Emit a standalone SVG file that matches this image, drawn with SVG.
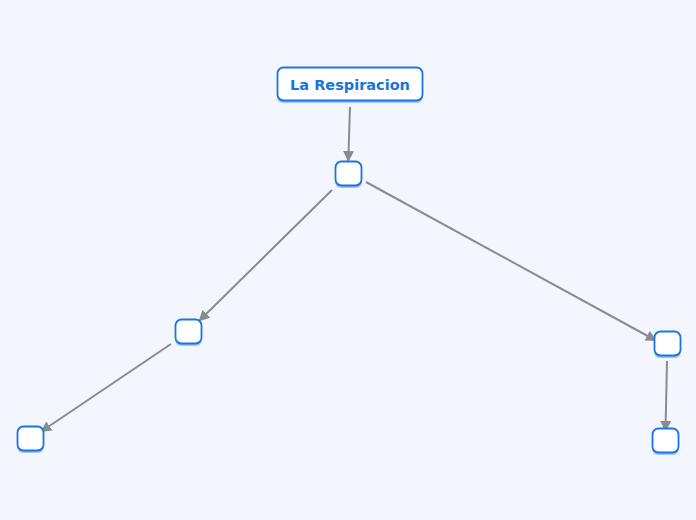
<svg xmlns="http://www.w3.org/2000/svg" width="696" height="520" viewBox="0 0 696 520">
<defs>
<style>
.node rect.b{fill:#ffffff;stroke:#1b74e4;stroke-width:1.8}
.node rect.s{fill:#1a5fbf;opacity:0.35}
.edge{stroke:#8a8a92;stroke-width:2;fill:none;marker-end:url(#ah)}
.t{font-family:Verdana,"DejaVu Sans",sans-serif;font-weight:bold;font-size:14.5px;fill:#1a73d8}
</style>
<marker id="ah" markerWidth="12" markerHeight="12" refX="9" refY="5.5" orient="auto" markerUnits="userSpaceOnUse">
<path d="M0,0 L11,5.5 L0,11 Z" fill="#8a8a92"/>
</marker>
</defs>
<rect width="696" height="520" fill="#f3f6fe"/>
<g id="connectors">
<line class="edge" x1="350" y1="107" x2="348.3" y2="160"/>
<line class="edge" x1="332" y1="190" x2="200" y2="320"/>
<line class="edge" x1="171" y1="344" x2="42" y2="431"/>
<line class="edge" x1="366" y1="182" x2="655" y2="340"/>
<line class="edge" x1="667" y1="361" x2="665.5" y2="430"/>
</g>
<g id="root" class="node">
<rect class="s" x="277" y="69" width="146" height="34" rx="6"/>
<rect class="b" x="277.5" y="67.5" width="145" height="33" rx="6"/>
<text class="t" x="350" y="90" text-anchor="middle">La Respiracion</text>
</g>
<g id="n1" class="node">
<rect class="s" x="335" y="163" width="27" height="25" rx="6"/>
<rect class="b" x="335.5" y="161.5" width="26" height="24" rx="6"/>
</g>
<g id="n2" class="node">
<rect class="s" x="175" y="321" width="27" height="25" rx="6"/>
<rect class="b" x="175.5" y="319.5" width="26" height="24" rx="6"/>
</g>
<g id="n3" class="node">
<rect class="s" x="17" y="428" width="27" height="25" rx="6"/>
<rect class="b" x="17.5" y="426.5" width="26" height="24" rx="6"/>
</g>
<g id="n4" class="node">
<rect class="s" x="654" y="333" width="27" height="25" rx="6"/>
<rect class="b" x="654.5" y="331.5" width="26" height="24" rx="6"/>
</g>
<g id="n5" class="node">
<rect class="s" x="652" y="430" width="27" height="25" rx="6"/>
<rect class="b" x="652.5" y="428.5" width="26" height="24" rx="6"/>
</g>
</svg>
